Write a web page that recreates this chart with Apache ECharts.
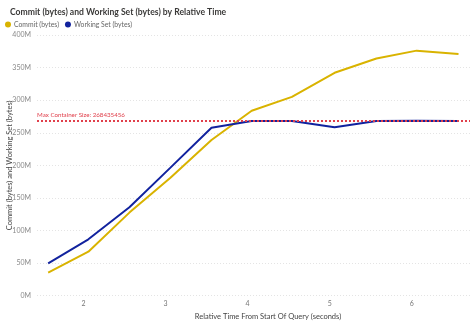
<!DOCTYPE html>
<html>
<head>
<meta charset="utf-8">
<script src="https://cdn.jsdelivr.net/npm/echarts@6/dist/echarts.min.js"></script>
<style>
  html, body { margin: 0; padding: 0; background: #fff; }
  #chart { width: 474px; height: 323px; }
</style>
</head>
<body>
<div id="chart"></div>
<script>
// Sample times (seconds since query start)
const relativeTime = [1.57, 2.06, 2.56, 3.06, 3.56, 4.05, 4.54, 5.06, 5.57, 6.06, 6.57];
// Memory readings, in millions of bytes
const commitM = [35.3, 67.5, 127.5, 181, 238.8, 283.7, 305, 342, 364, 376, 371];
const workingSetM = [49.7, 86.5, 135.6, 196.5, 257.7, 268.2, 268, 258.3, 268, 268.5, 268];
const xTickValues = [2, 3, 4, 5, 6];
const maxContainerSize = 268435456;

const FONT = 'Lato, "DejaVu Sans", sans-serif';
const chart = echarts.init(document.getElementById('chart'));

const pairs = arr => relativeTime.map((t, i) => [t, arr[i]]);

chart.setOption({
  animation: false,
  color: ['#D9B300', '#12239E'],
  title: {
    text: 'Commit (bytes) and Working Set (bytes) by Relative Time',
    left: 5, top: 3,
    textStyle: { fontFamily: FONT, fontSize: 8.6, fontWeight: 'bold', color: '#3b3a39' }
  },
  legend: {
    left: 5, top: 21, padding: 0,
    icon: 'circle', itemWidth: 6, itemHeight: 6, itemGap: 6,
    textStyle: { fontFamily: FONT, fontSize: 6.8, color: '#666', padding: [0, 0, 0, -2] },
    data: ['Commit (bytes)', 'Working Set (bytes)']
  },
  grid: { left: 37, right: 4, top: 35, bottom: 27.3, outerBoundsMode: 'none', containLabel: false },
  xAxis: {
    type: 'value',
    min: 1.434, max: 6.71,
    name: 'Relative Time From Start Of Query (seconds)',
    nameLocation: 'middle', nameGap: 14,
    nameTextStyle: { fontFamily: FONT, fontSize: 7.5, color: '#444', padding: [0, 0, 0, 29] },
    axisLine: { show: false }, axisTick: { show: false },
    splitLine: { show: false },
    axisLabel: {
      customValues: xTickValues,
      fontFamily: FONT, fontSize: 7, color: '#777', margin: 5
    }
  },
  yAxis: {
    type: 'value', min: 0, max: 400, interval: 50,
    name: 'Commit (bytes) and Working Set (bytes)',
    nameLocation: 'middle', nameGap: 23, nameMoveOverlap: false,
    nameTextStyle: { fontFamily: FONT, fontSize: 7.5, color: '#444' },
    axisLine: { show: false }, axisTick: { show: false },
    axisLabel: {
      formatter: v => v + 'M',
      fontFamily: FONT, fontSize: 7, color: '#888', margin: 6
    },
    splitLine: { lineStyle: { color: '#e4e4e4', type: [1, 2], width: 1 } }
  },
  series: [
    {
      name: 'Commit (bytes)', type: 'line', data: pairs(commitM),
      showSymbol: false, symbol: 'circle',
      lineStyle: { width: 2, color: '#D9B300' }
    },
    {
      name: 'Working Set (bytes)', type: 'line', data: pairs(workingSetM),
      showSymbol: false, symbol: 'circle',
      lineStyle: { width: 2, color: '#12239E' },
      markLine: {
        silent: true, symbol: 'none',
        lineStyle: { color: '#E0404C', type: [2, 2], width: 1.8 },
        label: {
          position: 'insideStartTop',
          formatter: 'Max Container Size: ' + maxContainerSize,
          fontFamily: FONT, fontSize: 6.2, color: '#E0404C', distance: [0, 3]
        },
        data: [{ yAxis: maxContainerSize / 1e6 }]
      }
    }
  ]
});
</script>
</body>
</html>
